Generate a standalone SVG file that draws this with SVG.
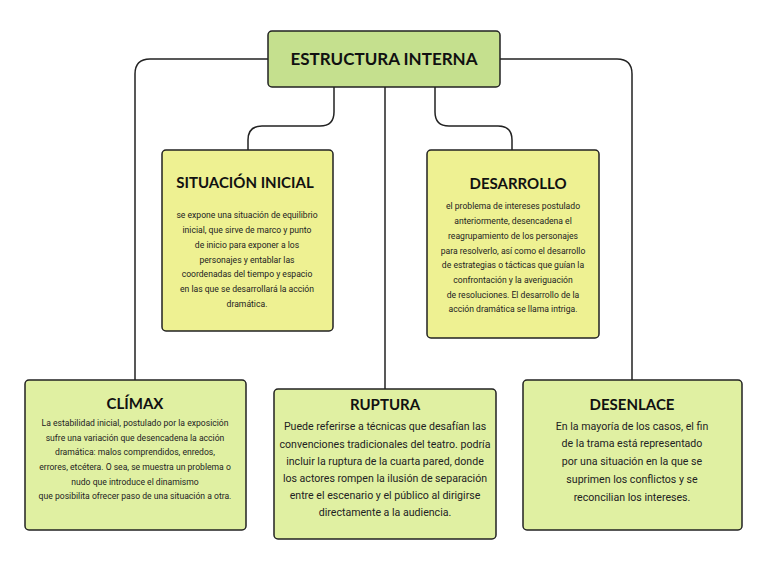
<svg xmlns="http://www.w3.org/2000/svg" width="768" height="576" viewBox="0 0 768 576">
<style>
.c{fill:none;stroke:#222;stroke-width:1.5}
.box{stroke:#222;stroke-width:1.5}
.y{fill:#eef192}
.g{fill:#e0f0a2}
.t{font-family:"Lato","Liberation Sans",sans-serif;font-weight:bold;fill:#111;text-anchor:middle}
.b{font-family:Roboto,"Liberation Sans",sans-serif;fill:#222;text-anchor:middle;font-size:8.6px}
.bl{font-family:Roboto,"Liberation Sans",sans-serif;fill:#222;text-anchor:middle;font-size:10.6px}
</style>
<rect width="768" height="576" fill="#fff"/>
<g id="connectors">
<path class="c" d="M268,59 H150 Q135,59 135,74 V380"/>
<path class="c" d="M500,59 H617 Q632,59 632,74 V380"/>
<path class="c" d="M385,87 V389"/>
<path class="c" d="M334,87 V112 Q334,126 320,126 H262 Q248,126 248,140 V150"/>
<path class="c" d="M435,87 V112 Q435,126 449,126 H498 Q512,126 512,140 V150"/>
</g>
<g id="header">
<rect class="box" x="268" y="31" width="232" height="56" rx="4" fill="#c5e08e"/>
<text class="t" x="384" y="65" font-size="17">ESTRUCTURA INTERNA</text>
</g>
<g id="situacion">
<rect class="box y" x="162" y="150" width="171" height="181" rx="4"/>
<text class="t" x="245" y="188" font-size="15">SITUACIÓN INICIAL</text>
<text class="b" x="247" y="218">se expone una situación de equilibrio</text>
<text class="b" x="247" y="233">inicial, que sirve de marco y punto</text>
<text class="b" x="247" y="248">de inicio para exponer a los</text>
<text class="b" x="247" y="263">personajes y entablar las</text>
<text class="b" x="247" y="277">coordenadas del tiempo y espacio</text>
<text class="b" x="247" y="292">en las que se desarrollará la acción</text>
<text class="b" x="247" y="307">dramática.</text>
</g>
<g id="desarrollo">
<rect class="box y" x="427" y="150" width="172" height="188" rx="4"/>
<text class="t" x="518" y="189" font-size="15">DESARROLLO</text>
<text class="b" x="513" y="209">el problema de intereses postulado</text>
<text class="b" x="513" y="224">anteriormente, desencadena el</text>
<text class="b" x="513" y="239">reagrupamiento de los personajes</text>
<text class="b" x="513" y="254">para resolverlo, así como el desarrollo</text>
<text class="b" x="513" y="268">de estrategias o tácticas que guían la</text>
<text class="b" x="513" y="283">confrontación y la averiguación</text>
<text class="b" x="513" y="298">de resoluciones. El desarrollo de la</text>
<text class="b" x="513" y="312">acción dramática se llama intriga.</text>
</g>
<g id="climax">
<rect class="box g" x="25" y="380" width="221" height="150" rx="4"/>
<text class="t" x="135" y="409" font-size="15">CLÍMAX</text>
<text class="b" x="135" y="426">La estabilidad inicial, postulado por la exposición</text>
<text class="b" x="135" y="441">sufre una variación que desencadena la acción</text>
<text class="b" x="135" y="455">dramática: malos comprendidos, enredos,</text>
<text class="b" x="135" y="470">errores, etcétera. O sea, se muestra un problema o</text>
<text class="b" x="135" y="485">nudo que introduce el dinamismo</text>
<text class="b" x="135" y="499">que posibilita ofrecer paso de una situación a otra.</text>
</g>
<g id="ruptura">
<rect class="box g" x="274" y="389" width="222" height="150" rx="4"/>
<text class="t" x="385" y="410" font-size="15">RUPTURA</text>
<text class="bl" x="385" y="430">Puede referirse a técnicas que desafían las</text>
<text class="bl" x="385" y="448">convenciones tradicionales del teatro. podría</text>
<text class="bl" x="385" y="465">incluir la ruptura de la cuarta pared, donde</text>
<text class="bl" x="385" y="482">los actores rompen la ilusión de separación</text>
<text class="bl" x="385" y="499">entre el escenario y el público al dirigirse</text>
<text class="bl" x="385" y="516">directamente a la audiencia.</text>
</g>
<g id="desenlace">
<rect class="box g" x="523" y="380" width="219" height="150" rx="4"/>
<text class="t" x="632" y="410" font-size="15">DESENLACE</text>
<text class="bl" x="632" y="430">En la mayoría de los casos, el fin</text>
<text class="bl" x="632" y="447">de la trama está representado</text>
<text class="bl" x="632" y="465">por una situación en la que se</text>
<text class="bl" x="632" y="483">suprimen los conflictos y se</text>
<text class="bl" x="632" y="501">reconcilian los intereses.</text>
</g>
</svg>
